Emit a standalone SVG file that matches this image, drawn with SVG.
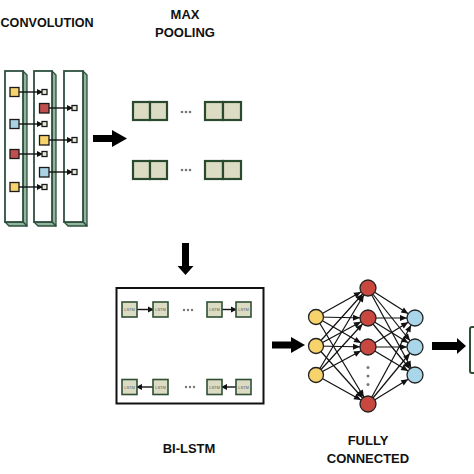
<svg xmlns="http://www.w3.org/2000/svg" width="474" height="474" viewBox="0 0 474 474">
<style>
.lbl{font-family:"Liberation Sans",Arial,sans-serif;font-weight:bold;font-size:13px;fill:#111;}
.colf{fill:#ffffff;stroke:#2f5040;stroke-width:1.8;}
.cols{fill:#93b49d;stroke:#2f5040;stroke-width:1.3;stroke-linejoin:round;}
.bsq{stroke:#1a1a1a;stroke-width:1.3;}
.ssq{fill:#e6e9d6;stroke:#1a1a1a;stroke-width:1.3;}
.pool{fill:#dcdcc4;stroke:#2a4a30;stroke-width:2.2;}
.lstm{fill:#dcdcc4;stroke:#2f4f35;stroke-width:1.6;}
.lt{font-family:"Liberation Sans",Arial,sans-serif;font-size:4px;fill:#555;text-anchor:middle;}
.ln{stroke:#111;stroke-width:1.4;fill:none;}
.fc{stroke:#111;stroke-width:1.2;fill:none;marker-end:url(#fch);}
.dot{fill:#777;}
.nd{stroke:#222;stroke-width:1.3;}
.big{fill:#000;}
</style>
<defs>
<marker id="ah" markerUnits="userSpaceOnUse" markerWidth="6" markerHeight="6" refX="5" refY="3" orient="auto" overflow="visible">
<path d="M0,0 L6,3 L0,6 z" fill="#111"/>
</marker>
<marker id="fch" markerUnits="userSpaceOnUse" markerWidth="7" markerHeight="6" refX="15" refY="3" orient="auto" overflow="visible">
<path d="M0,0 L7,3 L0,6 z" fill="#111"/>
</marker>
</defs>
<rect width="474" height="474" fill="#ffffff"/>

<text class="lbl" x="0.5" y="27" style="font-size:12.6px">CONVOLUTION</text>
<text class="lbl" x="185" y="19" text-anchor="middle">MAX</text>
<text class="lbl" x="185" y="37" text-anchor="middle">POOLING</text>
<text class="lbl" x="189" y="453" text-anchor="middle">BI-LSTM</text>
<text class="lbl" x="368" y="445" text-anchor="middle">FULLY</text>
<text class="lbl" x="368" y="463" text-anchor="middle">CONNECTED</text>

<g id="convolution">
<g id="conv-col1">
<polygon class="cols" points="23,71 27,75 27,226 23,222"/>
<polygon class="cols" points="5,222 23,222 27,226 9,226"/>
<rect class="colf" x="5" y="71" width="18" height="151"/>
</g>
<g id="conv-col2">
<polygon class="cols" points="52,71 56,75 56,226 52,222"/>
<polygon class="cols" points="34,222 52,222 56,226 38,226"/>
<rect class="colf" x="34" y="71" width="18" height="151"/>
</g>
<g id="conv-col3">
<polygon class="cols" points="83,71 87,75 87,226 83,222"/>
<polygon class="cols" points="64,222 83,222 87,226 68,226"/>
<rect class="colf" x="64" y="71" width="19" height="151"/>
</g>
<g id="conv-lines">
<line class="ln" x1="19" y1="92" x2="42" y2="92" marker-end="url(#ah)"/>
<line class="ln" x1="19" y1="124" x2="42" y2="124" marker-end="url(#ah)"/>
<line class="ln" x1="19" y1="154" x2="42" y2="154" marker-end="url(#ah)"/>
<line class="ln" x1="19" y1="187" x2="42" y2="187" marker-end="url(#ah)"/>
<line class="ln" x1="49" y1="108" x2="72" y2="108" marker-end="url(#ah)"/>
<line class="ln" x1="49" y1="140" x2="72" y2="140" marker-end="url(#ah)"/>
<line class="ln" x1="49" y1="172" x2="72" y2="172" marker-end="url(#ah)"/>
</g>
<rect class="bsq" x="10" y="87.5" width="9" height="9" fill="#f7d36b"/>
<rect class="bsq" x="10" y="119.5" width="9" height="9" fill="#a9d3e3"/>
<rect class="bsq" x="10" y="149.5" width="9" height="9" fill="#c0504d"/>
<rect class="bsq" x="10" y="182.5" width="9" height="9" fill="#f7d36b"/>
<rect class="ssq" x="42" y="89.5" width="5" height="5"/>
<rect class="ssq" x="42" y="121.5" width="5" height="5"/>
<rect class="ssq" x="42" y="151.5" width="5" height="5"/>
<rect class="ssq" x="42" y="184.5" width="5" height="5"/>
<rect class="bsq" x="39.5" y="103.5" width="9.5" height="9.5" fill="#c0504d"/>
<rect class="bsq" x="39.5" y="135.5" width="9.5" height="9.5" fill="#f7d36b"/>
<rect class="bsq" x="39.5" y="167.5" width="9.5" height="9.5" fill="#a9d3e3"/>
<rect class="ssq" x="72" y="105.5" width="5" height="5"/>
<rect class="ssq" x="72" y="137.5" width="5" height="5"/>
<rect class="ssq" x="72" y="169.5" width="5" height="5"/>
</g>

<g id="max-pooling">
<rect class="pool" x="133" y="102" width="17" height="18"/>
<rect class="pool" x="150" y="102" width="17" height="18"/>
<rect class="pool" x="205" y="102" width="18" height="18"/>
<rect class="pool" x="223" y="102" width="18" height="18"/>
<circle class="dot" cx="182" cy="112" r="1.3"/><circle class="dot" cx="186" cy="112" r="1.3"/><circle class="dot" cx="190" cy="112" r="1.3"/>
<rect class="pool" x="133" y="161" width="17" height="18"/>
<rect class="pool" x="150" y="161" width="17" height="18"/>
<rect class="pool" x="205" y="161" width="18" height="18"/>
<rect class="pool" x="223" y="161" width="18" height="18"/>
<circle class="dot" cx="182" cy="170" r="1.3"/><circle class="dot" cx="186" cy="170" r="1.3"/><circle class="dot" cx="190" cy="170" r="1.3"/>
</g>

<g id="bi-lstm">
<rect x="116.5" y="288" width="147" height="115.5" fill="#ffffff" stroke="#111" stroke-width="2"/>
<g id="lstm-top">
<line class="ln" x1="137" y1="309.5" x2="153" y2="309.5" marker-end="url(#ah)"/>
<line class="ln" x1="222" y1="309.5" x2="236" y2="309.5" marker-end="url(#ah)"/>
<rect class="lstm" x="122" y="302" width="15" height="15"/><text class="lt" x="129.5" y="311">LSTM</text>
<rect class="lstm" x="153" y="302" width="15" height="15"/><text class="lt" x="160.5" y="311">LSTM</text>
<rect class="lstm" x="207" y="302" width="15" height="15"/><text class="lt" x="214.5" y="311">LSTM</text>
<rect class="lstm" x="236" y="302" width="15" height="15"/><text class="lt" x="243.5" y="311">LSTM</text>
<circle class="dot" cx="184" cy="310" r="1.2"/><circle class="dot" cx="188" cy="310" r="1.2"/><circle class="dot" cx="192" cy="310" r="1.2"/>
</g>
<g id="lstm-bottom">
<line class="ln" x1="153" y1="387" x2="137" y2="387" marker-end="url(#ah)"/>
<line class="ln" x1="236" y1="387" x2="222" y2="387" marker-end="url(#ah)"/>
<rect class="lstm" x="122" y="379.5" width="15" height="15"/><text class="lt" x="129.5" y="388.5">LSTM</text>
<rect class="lstm" x="153" y="379.5" width="15" height="15"/><text class="lt" x="160.5" y="388.5">LSTM</text>
<rect class="lstm" x="207" y="379.5" width="15" height="15"/><text class="lt" x="214.5" y="388.5">LSTM</text>
<rect class="lstm" x="236" y="379.5" width="15" height="15"/><text class="lt" x="243.5" y="388.5">LSTM</text>
<circle class="dot" cx="186" cy="387" r="1.2"/><circle class="dot" cx="190" cy="387" r="1.2"/><circle class="dot" cx="194" cy="387" r="1.2"/>
</g>
</g>

<g id="connectors">
<polygon class="big" points="93,135 112,135 112,130 127,138.5 112,147 112,142 93,142"/>
<polygon class="big" points="182,243 189,243 189,266 193.5,266 185.5,275 177.5,266 182,266"/>
<polygon class="big" points="272,341.5 291,341.5 291,337 305,345 291,353 291,348.5 272,348.5"/>
<polygon class="big" points="432,342 457,342 457,338 466,346 457,354 457,350 432,350"/>
<g id="fc-edges">
<line class="fc" x1="316" y1="317" x2="368" y2="288"/>
<line class="fc" x1="316" y1="317" x2="368" y2="318"/>
<line class="fc" x1="316" y1="317" x2="368" y2="347"/>
<line class="fc" x1="316" y1="317" x2="368" y2="404"/>
<line class="fc" x1="316" y1="346" x2="368" y2="288"/>
<line class="fc" x1="316" y1="346" x2="368" y2="318"/>
<line class="fc" x1="316" y1="346" x2="368" y2="347"/>
<line class="fc" x1="316" y1="346" x2="368" y2="404"/>
<line class="fc" x1="316" y1="375" x2="368" y2="288"/>
<line class="fc" x1="316" y1="375" x2="368" y2="318"/>
<line class="fc" x1="316" y1="375" x2="368" y2="347"/>
<line class="fc" x1="316" y1="375" x2="368" y2="404"/>
<line class="fc" x1="368" y1="288" x2="415" y2="318"/>
<line class="fc" x1="368" y1="288" x2="415" y2="347"/>
<line class="fc" x1="368" y1="288" x2="415" y2="375"/>
<line class="fc" x1="368" y1="318" x2="415" y2="318"/>
<line class="fc" x1="368" y1="318" x2="415" y2="347"/>
<line class="fc" x1="368" y1="318" x2="415" y2="375"/>
<line class="fc" x1="368" y1="347" x2="415" y2="318"/>
<line class="fc" x1="368" y1="347" x2="415" y2="347"/>
<line class="fc" x1="368" y1="347" x2="415" y2="375"/>
<line class="fc" x1="368" y1="404" x2="415" y2="318"/>
<line class="fc" x1="368" y1="404" x2="415" y2="347"/>
<line class="fc" x1="368" y1="404" x2="415" y2="375"/>
</g>
</g>

<g id="fully-connected">
<circle class="nd" cx="316" cy="317" r="7.5" fill="#f7d36b"/>
<circle class="nd" cx="316" cy="346" r="7.5" fill="#f7d36b"/>
<circle class="nd" cx="316" cy="375" r="7.5" fill="#f7d36b"/>
<circle class="nd" cx="368" cy="288" r="8" fill="#c8483f"/>
<circle class="nd" cx="368" cy="318" r="8" fill="#c8483f"/>
<circle class="nd" cx="368" cy="347" r="8" fill="#c8483f"/>
<circle class="nd" cx="368" cy="404" r="8" fill="#c8483f"/>
<circle class="dot" cx="368" cy="367.5" r="1.5" fill="#aaa"/>
<circle class="dot" cx="368" cy="376" r="1.5" fill="#aaa"/>
<circle class="dot" cx="368" cy="384.5" r="1.5" fill="#aaa"/>
<circle class="nd" cx="415" cy="318" r="8" fill="#a9d6e8"/>
<circle class="nd" cx="415" cy="347" r="8" fill="#a9d6e8"/>
<circle class="nd" cx="415" cy="375" r="8" fill="#a9d6e8"/>
</g>

<g id="output">
<rect x="470" y="327" width="30" height="46" rx="2" fill="#ffffff" stroke="#2f4f35" stroke-width="2"/>
</g>
</svg>
